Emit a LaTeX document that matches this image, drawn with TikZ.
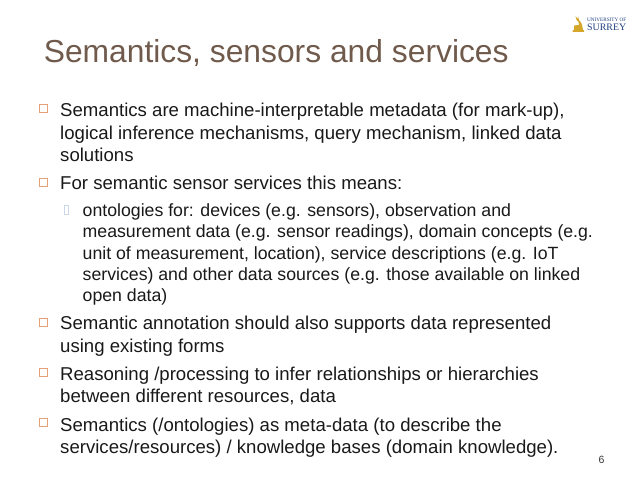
\documentclass[tikz,border=0pt]{standalone}
\usepackage{fontspec}
\setmainfont{Liberation Sans}
\newfontfamily\logofont{Liberation Serif}
\definecolor{titlebrown}{HTML}{6F5A4C}
\definecolor{bulletorange}{HTML}{E6A078}
\definecolor{bulletblue}{HTML}{CBD8E8}
\definecolor{surreyblue}{HTML}{1F3F7F}
\definecolor{surreygold}{HTML}{D4A62A}
\tikzset{bodytext/.style={font=\fontsize{18.6}{22.3}\selectfont,anchor=base west,align=left,inner sep=0pt,text=black!90},
subtext/.style={font=\fontsize{17.7}{21.25}\selectfont,anchor=base west,align=left,inner sep=0pt,text=black!90},
bulletbox/.style={draw=bulletorange,line width=1.4pt,inner sep=0pt,minimum size=8.4pt},
subbox/.style={draw=bulletblue,line width=.6pt,inner sep=0pt,minimum width=4pt,minimum height=9pt},
logotext/.style={anchor=base west,inner sep=0pt,text=surreyblue}}

\begin{document}
\begin{tikzpicture}[x=1pt,y=-1pt]
\useasboundingbox (0,0) rectangle (638,478);

% Title
\node[anchor=base west,inner sep=0pt,text=titlebrown,font=\fontsize{31.8}{36}\selectfont] (title) at (43.6,62.5) {Semantics, sensors and services};

% Logo
\node[logotext,font=\logofont\fontsize{5.2}{6}\selectfont] (logotop) at (587,21.7) {UNIVERSITY OF};
\node[logotext,font=\logofont\fontsize{9.9}{10}\selectfont] (logomain) at (587,30.7) {SURREY};
\fill[surreygold] (572.5,32) -- (572.5,30.5) -- (574,30) -- (574,25.5) -- (579,25) -- (578.5,22) -- (576.5,20) -- (575.5,16) -- (577.5,19) -- (578,16.5) -- (579,20) -- (581,22.5) -- (582,25) -- (583,30) -- (584,30.5) -- (584,32) -- cycle;

% Main items
\node[bodytext] (item1) at (60,161.5) {Semantics are machine-interpretable metadata (for mark-up),\\logical inference mechanisms, query mechanism, linked data\\solutions};
\node[bodytext] (item2) at (60,190) {For semantic sensor services this means:};
\node[subtext] (sub1) at (82.5,301.7) {ontologies for: devices (e.g. sensors), observation and\\measurement data (e.g. sensor readings), domain concepts (e.g.\\unit of measurement, location), service descriptions (e.g. IoT\\services) and other data sources (e.g. those available on linked\\open data)};
\node[bodytext] (item3) at (60,352.3) {Semantic annotation should also supports data represented\\using existing forms};
\node[bodytext] (item4) at (60,402.9) {Reasoning /processing to infer relationships or hierarchies\\between different resources, data};
\node[bodytext] (item5) at (60,454) {Semantics (/ontologies) as meta-data (to describe the\\services/resources) / knowledge bases (domain knowledge).};

% Bullets
\foreach \n/\y in {1/108.5,2/182.5,3/322.5,4/372.5,5/422.5} \node[bulletbox] (box\n) at (43.5,\y) {};
\node[subbox] (subbox1) at (66.2,209.6) {};

% Page number
\node[anchor=base,inner sep=0pt,text=black!80,font=\fontsize{10.5}{12}\selectfont] (pagenum) at (601.5,464) {6};
\end{tikzpicture}
\end{document}
